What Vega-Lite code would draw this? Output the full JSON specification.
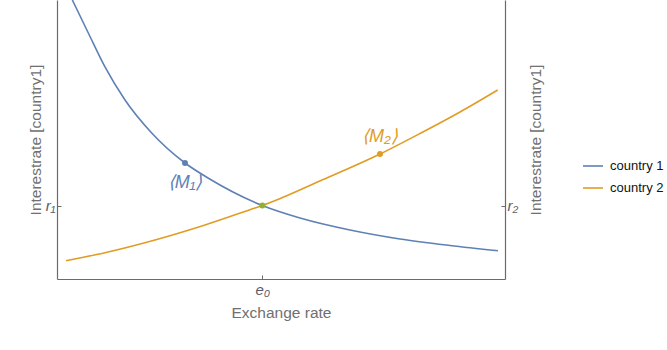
{
  "$schema": "https://vega.github.io/schema/vega-lite/v6.json",
  "width": 448,
  "height": 279,
  "autosize": {"type": "none"},
  "padding": {"left": 57, "top": 0, "right": 162, "bottom": 71},
  "background": "white",
  "config": {
    "view": {"stroke": null},
    "font": "Liberation Sans",
    "axis": {
      "grid": false,
      "domainColor": "#6b6b6b",
      "domainWidth": 1.2,
      "tickColor": "#6b6b6b",
      "tickSize": -4,
      "labelFont": "Liberation Sans",
      "labelFontStyle": "italic",
      "labelFontSize": 15,
      "labelColor": "#5a5a6a",
      "titleFont": "Liberation Sans",
      "titleFontWeight": "normal",
      "titleFontSize": 15.5,
      "titleColor": "#707070"
    }
  },
  "datasets": {
    "curves": [
      {"series": "country 1", "x": 0.342, "y": 10.0},
      {"series": "country 1", "x": 0.699, "y": 8.817},
      {"series": "country 1", "x": 1.071, "y": 7.599},
      {"series": "country 1", "x": 1.518, "y": 6.416},
      {"series": "country 1", "x": 2.114, "y": 5.233},
      {"series": "country 1", "x": 2.857, "y": 4.158},
      {"series": "country 1", "x": 3.371, "y": 3.62},
      {"series": "country 1", "x": 4.583, "y": 2.634},
      {"series": "country 1", "x": 5.424, "y": 2.186},
      {"series": "country 1", "x": 6.54, "y": 1.756},
      {"series": "country 1", "x": 7.656, "y": 1.434},
      {"series": "country 1", "x": 8.772, "y": 1.201},
      {"series": "country 1", "x": 9.844, "y": 1.014},
      {"series": "country 2", "x": 0.201, "y": 0.656},
      {"series": "country 2", "x": 1.071, "y": 0.943},
      {"series": "country 2", "x": 2.188, "y": 1.398},
      {"series": "country 2", "x": 3.304, "y": 1.935},
      {"series": "country 2", "x": 4.42, "y": 2.545},
      {"series": "country 2", "x": 4.583, "y": 2.634},
      {"series": "country 2", "x": 5.893, "y": 3.531},
      {"series": "country 2", "x": 7.21, "y": 4.48},
      {"series": "country 2", "x": 8.103, "y": 5.215},
      {"series": "country 2", "x": 8.996, "y": 5.986},
      {"series": "country 2", "x": 9.837, "y": 6.774}
    ],
    "points": [
      {"name": "M1", "x": 2.857, "y": 4.158, "color": "#5E81B5"},
      {"name": "M2", "x": 7.21, "y": 4.48, "color": "#E19C24"},
      {"name": "E", "x": 4.583, "y": 2.634, "color": "#8FB032"}
    ],
    "labels": [
      {"text": "⟨M₁⟩", "x": 2.857, "y": 3.45, "color": "#5E81B5"},
      {"text": "⟨M₂⟩", "x": 7.21, "y": 5.08, "color": "#E19C24"}
    ]
  },
  "layer": [
    {
      "data": {"name": "curves"},
      "mark": {"type": "line", "strokeWidth": 1.6, "interpolate": "monotone", "clip": true},
      "encoding": {
        "x": {
          "field": "x", "type": "quantitative",
          "scale": {"domain": [0, 10], "nice": false, "zero": false},
          "axis": {
            "values": [4.583], "labelExpr": "'e₀'", "title": "Exchange rate",
            "labelPadding": 7, "titlePadding": 8
          }
        },
        "y": {
          "field": "y", "type": "quantitative",
          "scale": {"domain": [0, 10], "nice": false, "zero": false},
          "axis": {
            "orient": "left",
            "values": [2.634], "labelExpr": "'r₁'", "title": "Interestrate [country1]",
            "labelPadding": 6, "titlePadding": 2
          }
        },
        "color": {
          "field": "series", "type": "nominal",
          "scale": {"domain": ["country 1", "country 2"], "range": ["#5E81B5", "#E19C24"]},
          "legend": {
            "title": null,
            "orient": "none",
            "legendX": 525,
            "legendY": 155,
            "symbolType": "stroke",
            "symbolSize": 400,
            "symbolStrokeWidth": 1.6,
            "labelFont": "Liberation Sans",
            "labelFontSize": 13,
            "labelColor": "#111111",
            "labelOffset": 6,
            "rowPadding": 4
          }
        }
      }
    },
    {
      "data": {"name": "points"},
      "mark": {"type": "point", "filled": true, "size": 36, "opacity": 1},
      "encoding": {
        "x": {"field": "x", "type": "quantitative", "scale": {"domain": [0, 10], "nice": false, "zero": false}},
        "y": {
          "field": "y", "type": "quantitative",
          "scale": {"domain": [0, 10], "nice": false, "zero": false},
          "axis": {
            "orient": "right",
            "values": [2.634], "labelExpr": "'r₂'", "title": "Interestrate [country1]",
            "titleAngle": 270, "labelPadding": 6, "titlePadding": 26
          }
        },
        "color": {"field": "color", "type": "nominal", "scale": null}
      }
    },
    {
      "data": {"name": "labels"},
      "mark": {"type": "text", "fontSize": 18, "fontStyle": "italic", "font": "Liberation Sans"},
      "encoding": {
        "x": {"field": "x", "type": "quantitative", "scale": {"domain": [0, 10], "nice": false, "zero": false}},
        "y": {"field": "y", "type": "quantitative", "scale": {"domain": [0, 10], "nice": false, "zero": false}, "axis": null},
        "text": {"field": "text"},
        "color": {"field": "color", "type": "nominal", "scale": null}
      }
    }
  ],
  "resolve": {"scale": {"y": "independent", "color": "independent"}, "axis": {"y": "independent"}}
}
